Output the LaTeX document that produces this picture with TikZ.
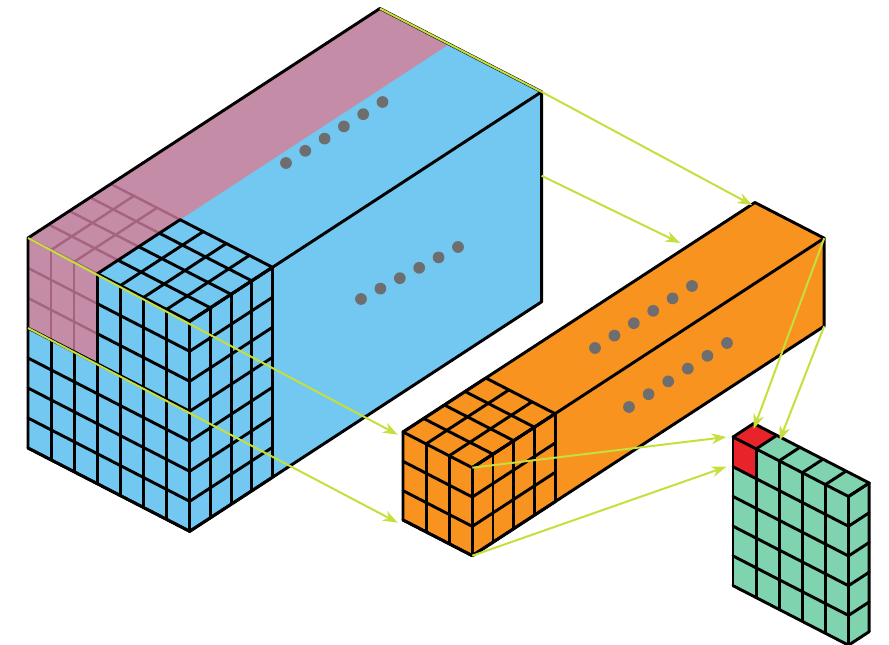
\documentclass[tikz,border=0pt]{standalone}
\usetikzlibrary{arrows.meta}
\definecolor{blueC}{HTML}{72C8F0}
\definecolor{pinkC}{HTML}{C48CA6}
\definecolor{pinkL}{HTML}{A4637F}
\definecolor{orangeC}{HTML}{F7931E}
\definecolor{greenC}{HTML}{7FD3AF}
\definecolor{redC}{HTML}{E8242A}
\definecolor{arrC}{HTML}{C6DF3C}
\definecolor{dotC}{HTML}{6E6E6E}
\tikzset{
 cube/.style={x={(17.325pt,-8.925pt)},y={(0pt,-22.5pt)},z={(15.525pt,10.125pt)}},
 bl/.style={black,line width=2.2pt,line cap=round,line join=round},
 pl/.style={pinkL,line width=1.8pt},
 arr/.style={arrC,line width=1.5pt,-{Stealth[length=11pt,width=8pt]}},
 yl/.style={arrC,line width=1.5pt},
}
\begin{document}
\begin{tikzpicture}[x=0.75pt,y=-0.75pt]
\useasboundingbox (0,0) rectangle (889,645);
\fill[white] (0,0) rectangle (889,645);
% ---------- big box ----------
\begin{scope}[shift={(28,238)},cube]
 \fill[blueC] (0,0,0)--(7,0,0)--(7,0,17)--(0,0,17)--cycle;
 \fill[pinkC] (0,0,0)--(3,0,0)--(3,0,17)--(0,0,17)--cycle;
 \fill[blueC] (7,0,0)--(7,7,0)--(7,7,17)--(7,0,17)--cycle;
 \fill[blueC] (0,0,0)--(7,0,0)--(7,7,0)--(0,7,0)--cycle;
 \fill[pinkC] (0,0,0)--(3,0,0)--(3,3,0)--(0,3,0)--cycle;
 \foreach \i in {1,2} {\draw[pl] (\i,0,0)--(\i,3,0); \draw[pl] (0,\i,0)--(3,\i,0); \draw[pl] (\i,0,0)--(\i,0,4);}
 \foreach \k in {1,...,4} \draw[pl] (0,0,\k)--(3,0,\k);
 \draw[pl] (0,0,0)--(3,0,0);
 \foreach \i in {3,...,7} \draw[bl] (\i,0,0)--(\i,7,0);
 \foreach \i in {0,1,2} \draw[bl] (\i,3,0)--(\i,7,0);
 \foreach \j in {3,...,7} \draw[bl] (0,\j,0)--(7,\j,0);
 \foreach \j in {0,1,2} \draw[bl] (3,\j,0)--(7,\j,0);
 \foreach \i in {3,...,7} \draw[bl] (\i,0,0)--(\i,0,4);
 \foreach \k in {1,...,4} \draw[bl] (3,0,\k)--(7,0,\k);
 \foreach \k in {0,...,4} \draw[bl] (7,0,\k)--(7,7,\k);
 \foreach \j in {0,...,7} \draw[bl] (7,\j,0)--(7,\j,4);
 \draw[bl] (0,0,0)--(0,7,0)--(7,7,0)--(7,7,17)--(7,0,17)--(0,0,17)--cycle;
 \draw[bl] (7,0,0)--(7,0,17);
 \coordinate (bO) at (0,0,0);
 \coordinate (bR) at (0,3,0);
 \coordinate (bBL) at (0,0,17);
 \coordinate (bBR) at (7,0,17);
 \coordinate (bBM) at (7,2.8,17);
\end{scope}
\foreach \t in {0,...,5} {
 \fill[dotC] ({286+\t*19.3},{163-\t*12.2}) circle (4.4pt);
 \fill[dotC] ({361+\t*19.4},{299-\t*10.4}) circle (4.4pt);
}
% ---------- orange box ----------
\begin{scope}[shift={(403,432)},cube,y={(0pt,-22pt)}]
 \fill[orangeC] (0,0,0)--(3,0,0)--(3,0,17)--(0,0,17)--cycle;
 \fill[orangeC] (3,0,0)--(3,3,0)--(3,3,17)--(3,0,17)--cycle;
 \fill[orangeC] (0,0,0)--(3,0,0)--(3,3,0)--(0,3,0)--cycle;
 \foreach \i in {0,...,3} {\draw[bl] (\i,0,0)--(\i,3,0); \draw[bl] (\i,0,0)--(\i,0,4);}
 \foreach \j in {0,...,3} {\draw[bl] (0,\j,0)--(3,\j,0); \draw[bl] (3,\j,0)--(3,\j,4);}
 \foreach \k in {1,...,4} {\draw[bl] (0,0,\k)--(3,0,\k); \draw[bl] (3,0,\k)--(3,3,\k);}
 \draw[bl] (0,0,0)--(0,3,0)--(3,3,0)--(3,3,17)--(3,0,17)--(0,0,17)--cycle;
 \draw[bl] (3,0,0)--(3,0,17);
 \coordinate (oO) at (0,0,0);
 \coordinate (oL) at (0,3,0);
 \coordinate (oFT) at (3,0,0);
 \coordinate (oFB) at (3,3,0);
 \coordinate (oBL) at (0,0,17);
 \coordinate (oBR) at (3,0,17);
 \coordinate (oBB) at (3,3,17);
\end{scope}
\foreach \t in {0,...,5} {
 \fill[dotC] ({595+\t*19.4},{348-\t*12.4}) circle (4.4pt);
 \fill[dotC] ({629+\t*19.6},{407-\t*12.8}) circle (4.4pt);
}
% ---------- green slab ----------
\begin{scope}[shift={(733,437)},cube,y={(0pt,-22.3pt)}]
 \fill[greenC] (0,0,0)--(5,0,0)--(5,0,1)--(0,0,1)--cycle;
 \fill[greenC] (5,0,0)--(5,5,0)--(5,5,1)--(5,0,1)--cycle;
 \fill[greenC] (0,0,0)--(5,0,0)--(5,5,0)--(0,5,0)--cycle;
 \fill[redC] (0,0,0)--(1,0,0)--(1,1,0)--(0,1,0)--cycle;
 \fill[redC] (0,0,0)--(1,0,0)--(1,0,1)--(0,0,1)--cycle;
 \foreach \i in {0,...,5} {\draw[bl] (\i,0,0)--(\i,5,0); \draw[bl] (\i,0,0)--(\i,0,1);}
 \foreach \j in {0,...,5} {\draw[bl] (0,\j,0)--(5,\j,0); \draw[bl] (5,\j,0)--(5,\j,1);}
 \draw[bl] (0,0,1)--(5,0,1)--(5,5,1);
 \coordinate (gTop) at (0,0,1);
 \coordinate (gTop2) at (1,0,1);
 \coordinate (gL0) at (0,0,0);
 \coordinate (gL1) at (0,1,0);
\end{scope}
% ---------- connectors ----------
\draw[yl] (bBL)--(bBR);
\draw[arr] (bO)--([xshift=-4,yshift=-2]oO);
\draw[arr] (bR)--([xshift=-4,yshift=-2]oL);
\draw[arr] (bBR)--([xshift=-2,yshift=-2]oBL);
\draw[arr] (bBM)--(680,243);
\draw[arr] (oFT)--([xshift=-5,yshift=0]gL0);
\draw[arr] (oFB)--([xshift=-5,yshift=0]gL1);
\draw[arr] (oBR)--([yshift=-4]gTop);
\draw[arr] (oBB)--([yshift=-4,xshift=2]gTop2);
\end{tikzpicture}
\end{document}
